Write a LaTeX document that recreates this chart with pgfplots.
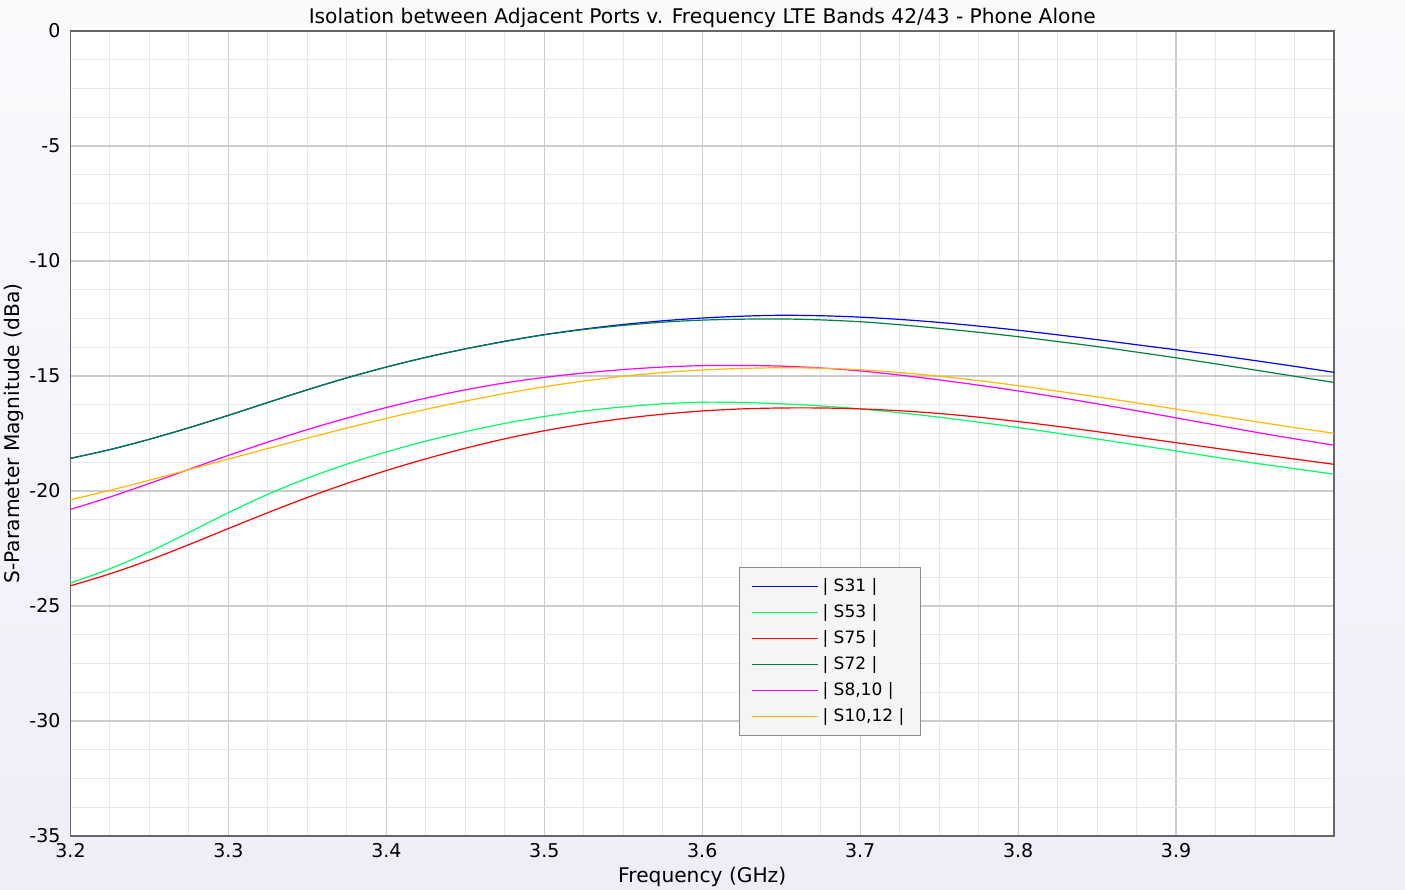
\documentclass[border=0pt]{standalone}
\usepackage{pgfplots}
\pgfplotsset{compat=1.18}
\usepackage{fontspec}
\setmainfont{DejaVu Sans}
\definecolor{bgtop}{RGB}{250,250,253}
\definecolor{bgbot}{RGB}{238,238,248}
\definecolor{majgrid}{RGB}{204,204,204}
\definecolor{mingrid}{RGB}{232,232,232}
\definecolor{legfill}{RGB}{245,245,245}
\definecolor{cS31}{RGB}{0,0,255}
\definecolor{cS53}{RGB}{0,255,100}
\definecolor{cS75}{RGB}{255,0,0}
\definecolor{cS72}{RGB}{0,130,60}
\definecolor{cS810}{RGB}{255,0,255}
\definecolor{cS1012}{RGB}{255,185,0}
\begin{document}
\begin{tikzpicture}
\useasboundingbox (0pt,0pt) rectangle (702.5pt,445pt);
\shade[top color=bgtop, bottom color=bgbot] (0pt,0pt) rectangle (702.5pt,445pt);
\begin{axis}[
  at={(35.25pt,27pt)}, anchor=south west,
  scale only axis, width=631.75pt, height=402.5pt,
  xmin=3.2, xmax=4.0, ymin=-35, ymax=0,
  xtick={3.2,3.3,3.4,3.5,3.6,3.7,3.8,3.9},
  xticklabels={3.2,3.3,3.4,3.5,3.6,3.7,3.8,3.9},
  ytick={-35,-30,-25,-20,-15,-10,-5,0},
  yticklabels={-35,-30,-25,-20,-15,-10,-5,0},
  minor xtick={3.225,3.25,3.275,3.325,3.35,3.375,3.425,3.45,3.475,3.525,3.55,3.575,3.625,3.65,3.675,3.725,3.75,3.775,3.825,3.85,3.875,3.925,3.95,3.975},
  minor ytick={-33.75,-32.5,-31.25,-28.75,-27.5,-26.25,-23.75,-22.5,-21.25,-18.75,-17.5,-16.25,-13.75,-12.5,-11.25,-8.75,-7.5,-6.25,-3.75,-2.5,-1.25},
  grid=both,
  major grid style={majgrid, line width=0.6pt},
  minor grid style={mingrid, line width=0.5pt},
  major tick length=0pt, minor tick length=0pt,
  axis line style={draw=black!60, line width=0.6pt},
  axis background/.style={fill=white},
  ticklabel style={font=\fontsize{9.5}{11}\selectfont},
  yticklabel style={xshift=-1.5pt},
  /pgf/number format/assume math mode=true,
  title={Isolation between Adjacent Ports v. Frequency LTE Bands 42/43 - Phone Alone},
  title style={font=\fontsize{10.1}{12}\selectfont, at={(axis description cs:0.5,1)}, anchor=base, yshift=-2pt},
  xlabel={Frequency (GHz)},
  xlabel style={font=\fontsize{10.1}{12}\selectfont, at={(axis description cs:0.5,0)}, anchor=base, yshift=-23pt},
  ylabel={S-Parameter Magnitude (dBa)},
  ylabel style={font=\fontsize{10.1}{12}\selectfont, at={(axis description cs:0,0.5)}, anchor=base, yshift=25.5pt},
  legend cell align=left,
  legend image code/.code={\draw[#1] (0pt,0pt) -- (30pt,0pt); \path (0pt,0pt) -- (33pt,0pt);},
  legend style={at={(0.529,0.334)}, anchor=north west, font=\fontsize{8.5}{10}\selectfont,
    fill=legfill, draw=black!45, line width=0.5pt,
    inner xsep=6pt, inner ysep=3pt,
    nodes={inner sep=2pt, text height=7pt, text depth=2pt}},
  every axis plot/.append style={line width=0.6pt, smooth, mark=none},
]
\addplot[cS31] coordinates {(3.2,-18.58)(3.225,-18.20)(3.25,-17.75)(3.275,-17.25)(3.3,-16.71)(3.325,-16.15)(3.35,-15.60)(3.375,-15.08)(3.4,-14.61)(3.425,-14.19)(3.45,-13.82)(3.475,-13.49)(3.5,-13.20)(3.525,-12.96)(3.55,-12.76)(3.575,-12.60)(3.6,-12.48)(3.625,-12.40)(3.65,-12.36)(3.675,-12.38)(3.7,-12.44)(3.725,-12.54)(3.75,-12.67)(3.775,-12.83)(3.8,-13.01)(3.825,-13.21)(3.85,-13.42)(3.875,-13.64)(3.9,-13.86)(3.925,-14.09)(3.95,-14.33)(3.975,-14.58)(4.0,-14.84)};
\addlegendentry{| S31 |}
\addplot[cS53] coordinates {(3.2,-24.00)(3.225,-23.38)(3.25,-22.64)(3.275,-21.80)(3.3,-20.94)(3.325,-20.14)(3.35,-19.44)(3.375,-18.83)(3.4,-18.30)(3.425,-17.83)(3.45,-17.42)(3.475,-17.06)(3.5,-16.76)(3.525,-16.52)(3.55,-16.34)(3.575,-16.21)(3.6,-16.14)(3.625,-16.15)(3.65,-16.21)(3.675,-16.30)(3.7,-16.43)(3.725,-16.60)(3.75,-16.79)(3.775,-17.01)(3.8,-17.24)(3.825,-17.49)(3.85,-17.74)(3.875,-18.00)(3.9,-18.26)(3.925,-18.53)(3.95,-18.79)(3.975,-19.03)(4.0,-19.27)};
\addlegendentry{| S53 |}
\addplot[cS75] coordinates {(3.2,-24.12)(3.225,-23.60)(3.25,-23.00)(3.275,-22.33)(3.3,-21.63)(3.325,-20.94)(3.35,-20.28)(3.375,-19.67)(3.4,-19.11)(3.425,-18.60)(3.45,-18.14)(3.475,-17.73)(3.5,-17.38)(3.525,-17.09)(3.55,-16.85)(3.575,-16.66)(3.6,-16.52)(3.625,-16.43)(3.65,-16.39)(3.675,-16.39)(3.7,-16.43)(3.725,-16.51)(3.75,-16.63)(3.775,-16.79)(3.8,-16.98)(3.825,-17.19)(3.85,-17.42)(3.875,-17.66)(3.9,-17.90)(3.925,-18.14)(3.95,-18.38)(3.975,-18.61)(4.0,-18.84)};
\addlegendentry{| S75 |}
\addplot[cS72] coordinates {(3.2,-18.58)(3.225,-18.20)(3.25,-17.75)(3.275,-17.25)(3.3,-16.71)(3.325,-16.15)(3.35,-15.60)(3.375,-15.08)(3.4,-14.61)(3.425,-14.19)(3.45,-13.82)(3.475,-13.50)(3.5,-13.21)(3.525,-12.98)(3.55,-12.80)(3.575,-12.66)(3.6,-12.57)(3.625,-12.53)(3.65,-12.52)(3.675,-12.56)(3.7,-12.64)(3.725,-12.77)(3.75,-12.93)(3.775,-13.10)(3.8,-13.29)(3.825,-13.50)(3.85,-13.72)(3.875,-13.96)(3.9,-14.21)(3.925,-14.47)(3.95,-14.74)(3.975,-15.01)(4.0,-15.28)};
\addlegendentry{| S72 |}
\addplot[cS810] coordinates {(3.2,-20.80)(3.225,-20.26)(3.25,-19.67)(3.275,-19.06)(3.3,-18.45)(3.325,-17.87)(3.35,-17.33)(3.375,-16.83)(3.4,-16.37)(3.425,-15.96)(3.45,-15.60)(3.475,-15.30)(3.5,-15.06)(3.525,-14.87)(3.55,-14.72)(3.575,-14.61)(3.6,-14.55)(3.625,-14.54)(3.65,-14.57)(3.675,-14.65)(3.7,-14.78)(3.725,-14.96)(3.75,-15.17)(3.775,-15.40)(3.8,-15.65)(3.825,-15.92)(3.85,-16.21)(3.875,-16.51)(3.9,-16.82)(3.925,-17.13)(3.95,-17.44)(3.975,-17.73)(4.0,-18.01)};
\addlegendentry{| S8,10 |}
\addplot[cS1012] coordinates {(3.2,-20.38)(3.225,-19.97)(3.25,-19.53)(3.275,-19.07)(3.3,-18.61)(3.325,-18.15)(3.35,-17.70)(3.375,-17.26)(3.4,-16.84)(3.425,-16.45)(3.45,-16.09)(3.475,-15.76)(3.5,-15.47)(3.525,-15.22)(3.55,-15.01)(3.575,-14.85)(3.6,-14.74)(3.625,-14.67)(3.65,-14.64)(3.675,-14.66)(3.7,-14.73)(3.725,-14.85)(3.75,-15.01)(3.775,-15.20)(3.8,-15.42)(3.825,-15.66)(3.85,-15.91)(3.875,-16.17)(3.9,-16.44)(3.925,-16.71)(3.95,-16.98)(3.975,-17.24)(4.0,-17.49)};
\addlegendentry{| S10,12 |}
\end{axis}
\end{tikzpicture}
\end{document}
